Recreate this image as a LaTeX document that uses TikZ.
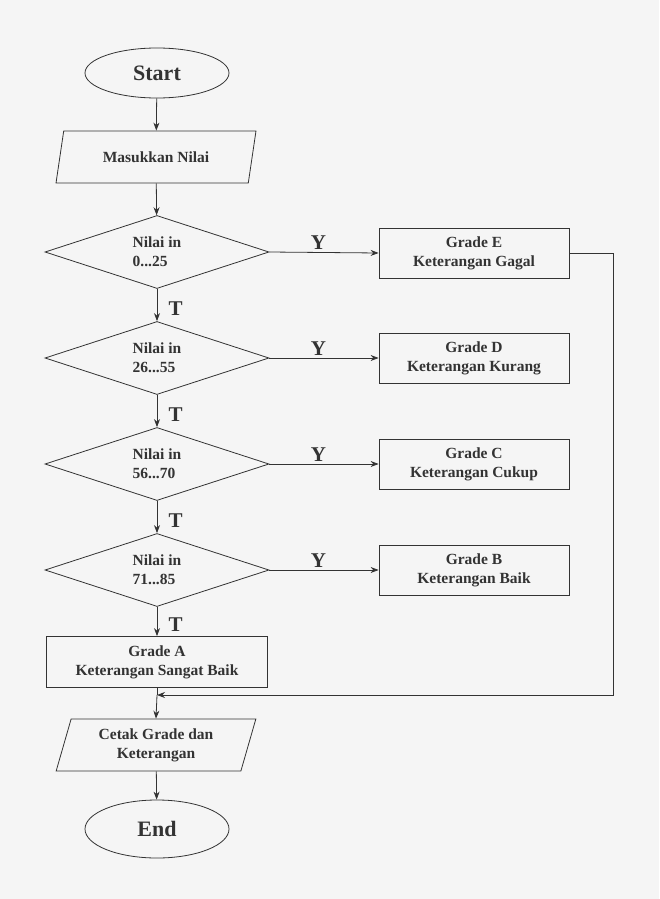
\documentclass[tikz,border=0pt]{standalone}
\usepackage{fontspec}
\setmainfont{Liberation Serif}
\usetikzlibrary{shapes.geometric,arrows.meta}
\definecolor{bg}{HTML}{F5F5F5}
\definecolor{ln}{HTML}{333333}
\begin{document}
\begin{tikzpicture}[x=1pt,y=-1pt,line width=0.8pt,
  every node/.style={text=ln},
  txt/.style={font=\bfseries\fontsize{15.5}{19}\selectfont},
  term/.style={ellipse,draw=ln,minimum width=144pt,minimum height=50pt,font=\bfseries\fontsize{22}{24}\selectfont},
  io/.style={txt,trapezium,trapezium left angle=75,trapezium right angle=105,draw=ln,minimum width=200pt,minimum height=52pt,trapezium stretches=true,align=center},
  dec/.style={txt,diamond,draw=ln,minimum width=224pt,minimum height=73pt,aspect=3,align=left,inner sep=0pt},
  proc/.style={txt,rectangle,draw=ln,minimum width=190pt,minimum height=50pt,align=center,inner sep=2pt},
  yt/.style={font=\bfseries\fontsize{21}{23}\selectfont},
  arr/.style={draw=ln,-{Stealth[length=8pt,width=6pt]}}]
\fill[bg] (0,0) rectangle (659,899);
\useasboundingbox (0,0) rectangle (659,899);
\node[term] (start) at (157,73) {Start};
\node[io] (in) at (156,157) {Masukkan Nilai};
\node[dec] (d1) at (157,252) {Nilai in\\0...25};
\node[dec] (d2) at (157,358) {Nilai in\\26...55};
\node[dec] (d3) at (157,464) {Nilai in\\56...70};
\node[dec] (d4) at (157,570) {Nilai in\\71...85};
\node[proc] (e) at (474,253) {Grade E\\Keterangan Gagal};
\node[proc] (dd) at (474,358) {Grade D\\Keterangan Kurang};
\node[proc] (c) at (474,464) {Grade C\\Keterangan Cukup};
\node[proc] (b) at (474,570) {Grade B\\Keterangan Baik};
\node[proc,minimum width=221pt,minimum height=51pt] (a) at (157,662) {Grade A\\Keterangan Sangat Baik};
\node[io] (out) at (156,745) {Cetak Grade dan\\Keterangan};
\node[term,minimum height=58pt] (end) at (157,829) {End};
\coordinate (j) at (157,695);
\coordinate (r1) at (613,253);
\coordinate (r2) at (613,695);
\draw[arr] (start) -- (in);
\draw[arr] (in) -- (d1);
\foreach \p/\q/\r in {d1/d2/e, d2/d3/dd, d3/d4/c, d4/a/b}{
  \draw[arr] (\p.south) -- node[yt,right=8pt,pos=0.6]{T} (\q.north);
  \draw[arr] (\p.east) -- node[yt,above=-1pt,pos=0.45]{Y} (\r.west);
}
\draw[draw=ln] (a.south) -- (j);
\draw[arr] (e.east) -- (r1) -- (r2) -- (j);
\draw[arr] (j) -- (out.north);
\draw[arr] (out) -- (end);
\end{tikzpicture}
\end{document}
